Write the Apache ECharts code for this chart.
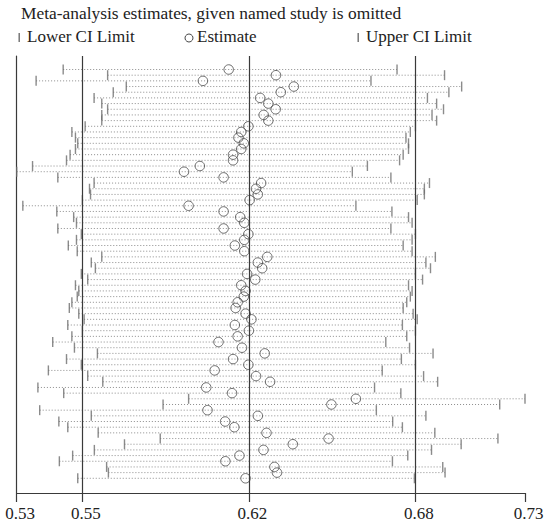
<!DOCTYPE html>
<html>
<head>
<meta charset="utf-8">
<script src="https://cdn.jsdelivr.net/npm/echarts@6/dist/echarts.min.js"></script>
<style>
  html, body { margin: 0; padding: 0; background: #fff; }
  #chart { width: 550px; height: 528px; }
</style>
</head>
<body>
<div id="chart"></div>
<script>
// Influence plot: each row = pooled estimate with one study left out
var lower = [
  0.5452, 0.5626, 0.5346, 0.5699, 0.5648, 0.5573, 0.5603, 0.5626, 0.5603, 0.5603,
  0.5538, 0.5486, 0.5500, 0.5509, 0.5500, 0.5479, 0.5465, 0.5332, 0.5270, 0.5431,
  0.5573, 0.5555, 0.5559, 0.5527, 0.5294, 0.5427, 0.5493, 0.5504, 0.5431, 0.5523,
  0.5504, 0.5472, 0.5507, 0.5603, 0.5562, 0.5578, 0.5523, 0.5548, 0.5500, 0.5513,
  0.5507, 0.5486, 0.5476, 0.5513, 0.5534, 0.5470, 0.5527, 0.5486, 0.5411, 0.5496,
  0.5586, 0.5465, 0.5523, 0.5394, 0.5548, 0.5607, 0.5353, 0.5454, 0.5943, 0.5843,
  0.5360, 0.5562, 0.5435, 0.5470, 0.5589, 0.5832, 0.5692, 0.5574, 0.5489, 0.5437,
  0.5622, 0.5629, 0.5509
];
var estimate = [
  0.6100, 0.6285, 0.5999, 0.6355, 0.6304, 0.6223, 0.6255, 0.6284, 0.6237, 0.6255,
  0.6177, 0.6149, 0.6138, 0.6159, 0.6149, 0.6117, 0.6117, 0.5987, 0.5925, 0.6080,
  0.6227, 0.6207, 0.6214, 0.6182, 0.5943, 0.6080, 0.6145, 0.6161, 0.6080, 0.6177,
  0.6161, 0.6124, 0.6161, 0.6251, 0.6214, 0.6231, 0.6172, 0.6204, 0.6149, 0.6166,
  0.6159, 0.6135, 0.6127, 0.6166, 0.6189, 0.6124, 0.6179, 0.6135, 0.6060, 0.6152,
  0.6241, 0.6117, 0.6177, 0.6045, 0.6207, 0.6262, 0.6012, 0.6113, 0.6598, 0.6502,
  0.6017, 0.6214, 0.6086, 0.6122, 0.6248, 0.6491, 0.6351, 0.6236, 0.6142, 0.6087,
  0.6279, 0.6289, 0.6166
];
var upper = [
  0.6759, 0.6945, 0.6657, 0.7012, 0.6962, 0.6878, 0.6914, 0.6941, 0.6896, 0.6914,
  0.6831, 0.6811, 0.6794, 0.6804, 0.6804, 0.6783, 0.6769, 0.6643, 0.6584, 0.6735,
  0.6886, 0.6866, 0.6866, 0.6838, 0.6598, 0.6739, 0.6804, 0.6818, 0.6735, 0.6831,
  0.6818, 0.6783, 0.6818, 0.6909, 0.6872, 0.6890, 0.6831, 0.6859, 0.6804, 0.6818,
  0.6811, 0.6797, 0.6783, 0.6822, 0.6838, 0.6780, 0.6831, 0.6797, 0.6715, 0.6808,
  0.6900, 0.6776, 0.6831, 0.6701, 0.6863, 0.6918, 0.6671, 0.6774, 0.7260, 0.7161,
  0.6678, 0.6872, 0.6742, 0.6780, 0.6907, 0.7154, 0.7010, 0.6894, 0.6801, 0.6741,
  0.6938, 0.6947, 0.6827
];
// pooled estimate and its CI (vertical reference lines)
var overall = [0.5527, 0.6179, 0.6831];
// axis ticks: range ends + pooled CI + estimate
var tickValues = [0.527, 0.5527, 0.6179, 0.6831, 0.726];

var serif = '"Liberation Serif", "Times New Roman", serif';
var ink = '#222';
var lineCol = '#3a3a3a';
var tickCol = '#6e6e6e';
var dotCol = '#8c8c8c';
var circCol = '#474747';

var rowIdx = estimate.map(function(_, i) { return i + 1; });
var ciData = rowIdx.map(function(r, i) { return [lower[i], upper[i], r]; });
var lowData = rowIdx.map(function(r, i) { return [lower[i], r]; });
var upData = rowIdx.map(function(r, i) { return [upper[i], r]; });
var estData = rowIdx.map(function(r, i) { return [estimate[i], r]; });

var chart = echarts.init(document.getElementById('chart'), null, { renderer: 'svg' });
chart.setOption({
  animation: false,
  grid: { left: 16.7, right: 25, top: 56, bottom: 35 },
  xAxis: {
    type: 'value',
    min: tickValues[0],
    max: tickValues[tickValues.length - 1],
    axisLine: { show: true, onZero: false, lineStyle: { color: lineCol, width: 1.2 } },
    axisTick: { show: true, length: 9, customValues: tickValues, lineStyle: { color: lineCol, width: 1.2 } },
    axisLabel: {
      customValues: tickValues,
      margin: 12,
      padding: [0, 0, 0, 7],
      color: ink,
      fontFamily: serif,
      fontSize: 17,
      formatter: function(v) { return v.toFixed(2); }
    },
    splitLine: { show: false }
  },
  yAxis: {
    type: 'value',
    inverse: true,
    min: -1.38,
    max: 75.59,
    axisLine: { show: true, onZero: false, lineStyle: { color: lineCol, width: 1.2 } },
    axisTick: { show: false },
    axisLabel: { show: false },
    splitLine: { show: false }
  },
  graphic: [
    { type: 'text', left: 21, top: 4, style: { text: 'Meta-analysis estimates, given named study is omitted', font: '17.4px ' + serif, fill: ink } },
    { type: 'rect', shape: { x: 18.5, y: 33, width: 1.4, height: 9 }, style: { fill: tickCol } },
    { type: 'text', left: 27, top: 28, style: { text: 'Lower CI Limit', font: '17px ' + serif, fill: ink } },
    { type: 'circle', shape: { cx: 189, cy: 38, r: 4 }, style: { fill: 'none', stroke: circCol, lineWidth: 1 } },
    { type: 'text', left: 197, top: 28, style: { text: 'Estimate', font: '17px ' + serif, fill: ink } },
    { type: 'rect', shape: { x: 357.5, y: 33, width: 1.4, height: 9 }, style: { fill: tickCol } },
    { type: 'text', left: 366, top: 28, style: { text: 'Upper CI Limit', font: '17px ' + serif, fill: ink } }
  ],
  series: [
    {
      // dotted span from lower to upper limit
      type: 'custom',
      data: ciData,
      encode: { x: [0, 1], y: 2 },
      silent: true,
      renderItem: function(params, api) {
        var a = api.coord([api.value(0), api.value(2)]);
        var b = api.coord([api.value(1), api.value(2)]);
        return {
          type: 'line',
          shape: { x1: a[0], y1: a[1], x2: b[0], y2: b[1] },
          style: { stroke: dotCol, lineWidth: 1, lineDash: [1, 2] }
        };
      },
      markLine: {
        silent: true,
        symbol: 'none',
        precision: 4,
        label: { show: false },
        lineStyle: { color: lineCol, width: 1.2, type: 'solid' },
        data: overall.map(function(v) { return { xAxis: v }; })
      },
      z: 1
    },
    {
      type: 'scatter',
      data: lowData,
      symbol: 'rect',
      symbolSize: [1.4, 10],
      itemStyle: { color: tickCol },
      silent: true,
      z: 3
    },
    {
      type: 'scatter',
      data: upData,
      symbol: 'rect',
      symbolSize: [1.4, 10],
      itemStyle: { color: tickCol },
      silent: true,
      z: 3
    },
    {
      type: 'scatter',
      data: estData,
      symbol: 'circle',
      symbolSize: 9.5,
      itemStyle: { color: 'rgba(0,0,0,0)', borderColor: circCol, borderWidth: 1 },
      silent: true,
      z: 4
    }
  ]
});
window.addEventListener('resize', function() { chart.resize(); });
</script>
</body>
</html>
